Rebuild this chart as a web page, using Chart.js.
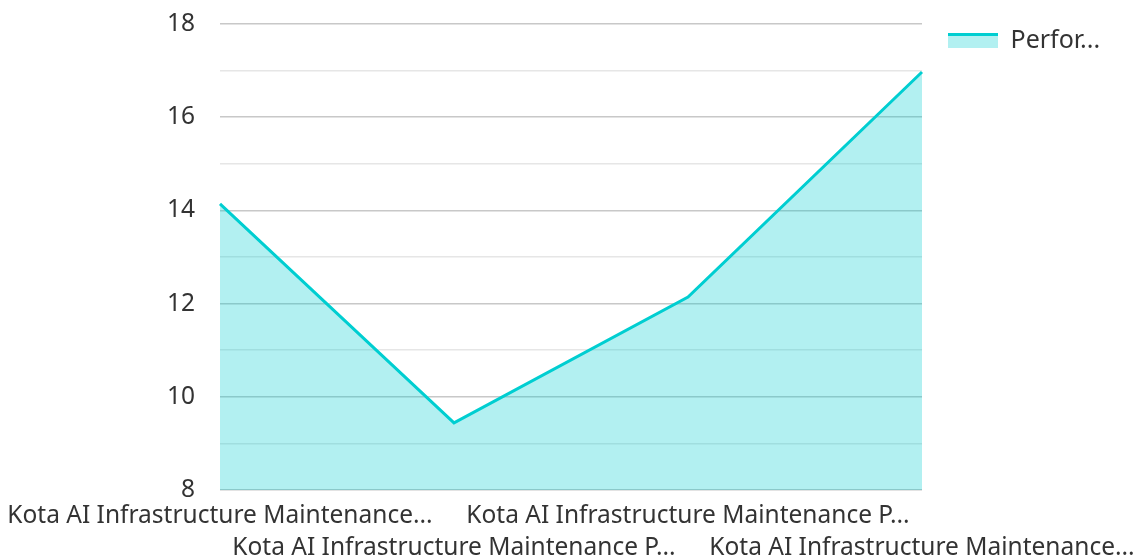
<!DOCTYPE html>
<html>
<head>
<meta charset="utf-8">
<script src="https://cdn.jsdelivr.net/npm/chart.js@4/dist/chart.umd.min.js"></script>
<style>
  html, body { margin: 0; padding: 0; background: #fff; }
  #wrap { width: 1137px; height: 558px; }
</style>
</head>
<body>
<div id="wrap"><canvas id="c" width="1137" height="558"></canvas></div>
<script>
const categories = [
  'Kota AI Infrastructure Maintenance...',
  'Kota AI Infrastructure Maintenance P...',
  'Kota AI Infrastructure Maintenance P...',
  'Kota AI Infrastructure Maintenance...'
];
const seriesName = 'Perfor...';
const seriesValues = [14.14, 9.44, 12.14, 16.97];
const yTickLabels = [8, 10, 12, 14, 16, 18];

const lineColor = '#00CED1';
const fillColor = 'rgba(0, 206, 209, 0.3)';
const fontFamily = '"Noto Sans", "Open Sans", sans-serif';
const fontSize = 24.5;

// legend symbol: line on top, fill below
const sym = document.createElement('canvas');
sym.width = 50; sym.height = 15;
(function () {
  const g = sym.getContext('2d');
  g.fillStyle = fillColor;
  g.fillRect(0, 0, 50, 15);
  g.fillStyle = lineColor;
  g.fillRect(0, 0, 50, 3);
})();

// stagger labels into two rows
const staggered = categories.map((c, i) => i % 2 === 0 ? c : ['', c]);

new Chart(document.getElementById('c'), {
  type: 'line',
  data: {
    labels: staggered,
    datasets: [{
      label: seriesName,
      data: seriesValues,
      borderColor: lineColor,
      backgroundColor: fillColor,
      borderWidth: 3,
      fill: 'start',
      tension: 0,
      pointRadius: 0,
      pointHoverRadius: 0,
      pointStyle: sym
    }]
  },
  options: {
    responsive: false,
    animation: false,
    layout: { padding: { top: 2, right: 0, left: 0, bottom: 0 } },
    plugins: {
      tooltip: { enabled: false },
      legend: {
        position: 'right',
        align: 'start',
        labels: {
          usePointStyle: true,
          pointStyleWidth: 50,
          boxWidth: 50,
          boxHeight: 15,
          padding: 26,
          color: '#333',
          font: { family: fontFamily, size: 25 }
        }
      }
    },
    scales: {
      x: {
        afterFit: (s) => { s.height = 68; s.paddingLeft = 220; s.paddingRight = 215; },
        grid: { display: false, drawTicks: false },
        border: { display: false },
        ticks: {
          autoSkip: false,
          maxRotation: 0,
          minRotation: 0,
          padding: 10,
          color: '#333',
          font: { family: fontFamily, size: fontSize, lineHeight: 1.31 }
        }
      },
      y: {
        min: 8,
        max: 18,
        afterFit: (s) => { s.paddingTop = 24; s.paddingBottom = 14; },
        grid: {
          drawTicks: false,
          lineWidth: 1.5,
          color: (ctx) => (ctx.tick && ctx.tick.value % 2 === 0) ? '#c8c8c8' : '#e6e6e6'
        },
        border: { display: false },
        ticks: {
          stepSize: 1,
          padding: 25,
          color: '#333',
          font: { family: fontFamily, size: fontSize },
          callback: (v) => yTickLabels.includes(v) ? String(v) : ''
        }
      }
    }
  }
});
</script>
</body>
</html>
